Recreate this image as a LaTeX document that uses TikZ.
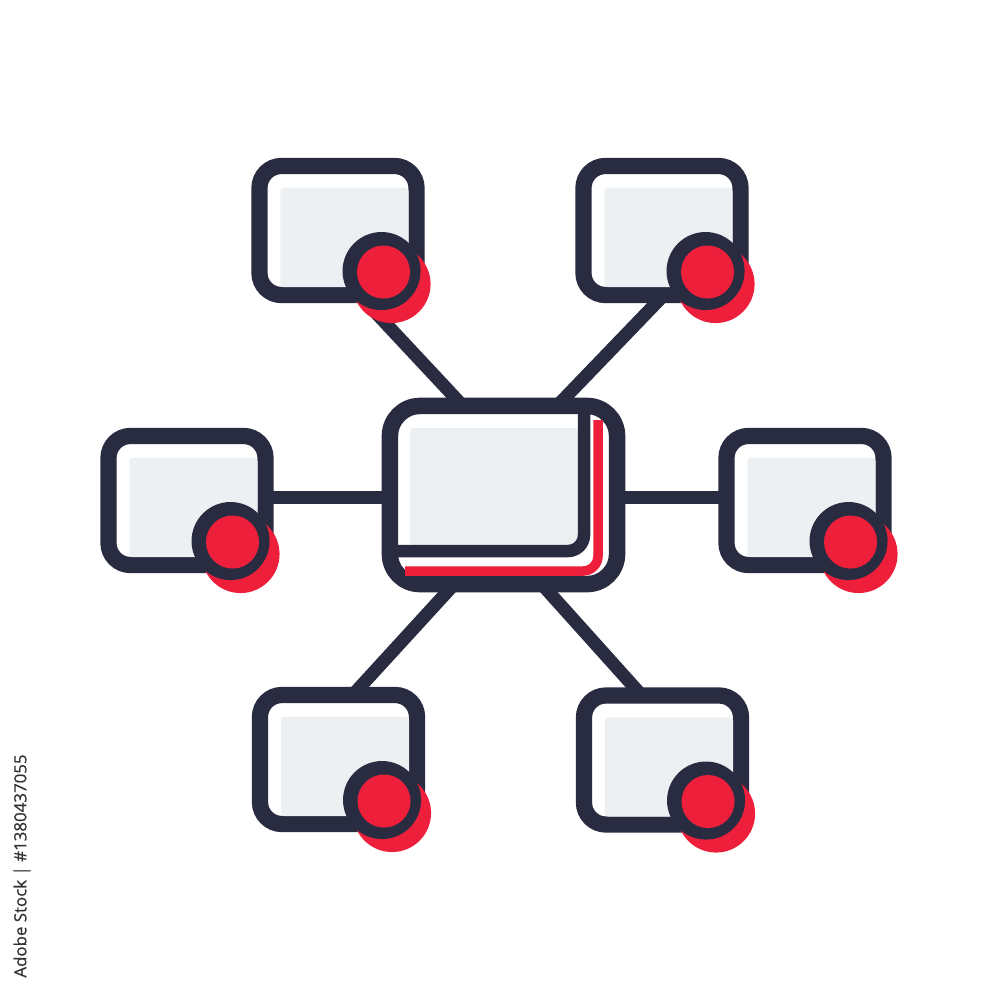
\documentclass[tikz,border=0pt]{standalone}
\usepackage{fontspec}
\newfontfamily\wmfont[FakeBold=0.6]{Open Sans}
\definecolor{navy}{HTML}{292C41}
\definecolor{iconred}{HTML}{EE1F3B}
\definecolor{panelgray}{HTML}{ECF0F2}
\definecolor{wmgray}{HTML}{333333}
\begin{document}
\begin{tikzpicture}[x=0.01cm,y=-0.01cm,
  satbox/.style={draw=navy, fill=white, line width=0.162cm, rounded corners=0.22cm,
    minimum width=1.57cm, minimum height=1.29cm, inner sep=0pt, outer sep=0pt},
  hubbox/.style={draw=navy, fill=white, line width=0.165cm, rounded corners=0.3cm,
    minimum width=2.27cm, minimum height=1.78cm, inner sep=0pt, outer sep=0pt},
  link/.style={draw=navy, line width=0.13cm},
  panel/.style={fill=panelgray, rounded corners=0.03cm}]
\fill[white] (0,0) rectangle (1000,1000);
\useasboundingbox (0,0) rectangle (1000,1000);

% connector end points
\coordinate (tlA) at (362,298); \coordinate (tlB) at (462,405);
\coordinate (trA) at (661,298); \coordinate (trB) at (558,405);
\coordinate (blA) at (458,580); \coordinate (blB) at (350,698);
\coordinate (brA) at (538,580); \coordinate (brB) at (644,698);
\coordinate (lA) at (260,497);  \coordinate (lB) at (395,497);
\coordinate (rA) at (610,497);  \coordinate (rB) at (730,497);

\draw[link] (tlA) -- (tlB);
\draw[link] (trA) -- (trB);
\draw[link] (blA) -- (blB);
\draw[link] (brA) -- (brB);
\draw[link] (lA) -- (lB);
\draw[link] (rA) -- (rB);

% hub
\node[hubbox] (hub) at (503.5,495) {};
\fill[panel] (410,428) rectangle (578,545);
\draw[navy, line width=0.125cm, rounded corners=0.16cm] (584,400) -- (584,551) -- (385,551);
\draw[iconred, line width=0.095cm, rounded corners=0.15cm] (598,420) -- (598,571) -- (405,571);

% satellites
\node[satbox] (tl) at (338,230.5) {};
\node[satbox] (tr) at (662,230.5) {};
\node[satbox] (l)  at (187,500.5) {};
\node[satbox] (r)  at (805,500.5) {};
\node[satbox] (bl) at (338.5,759.5) {};
\node[satbox] (br) at (662.5,760) {};

\foreach \b in {tl,tr,l,r,bl,br} {
  \fill[panel] ([shift={(21,22)}]\b.north west) rectangle ([shift={(-8,-8)}]\b.south east);
  \fill[iconred] ([shift={(-25,-11)}]\b.south east) circle[radius=0.39cm];
  \fill[navy] ([shift={(-35,-24)}]\b.south east) circle[radius=0.39cm];
  \fill[iconred] ([shift={(-33,-23)}]\b.south east) circle[radius=0.265cm];
}

\node[rotate=90, text=wmgray, font=\wmfont\fontsize{4.8}{6}\selectfont, inner sep=0pt] (wm) at (22,866) {Adobe Stock | \#1380437055};
\end{tikzpicture}
\end{document}
